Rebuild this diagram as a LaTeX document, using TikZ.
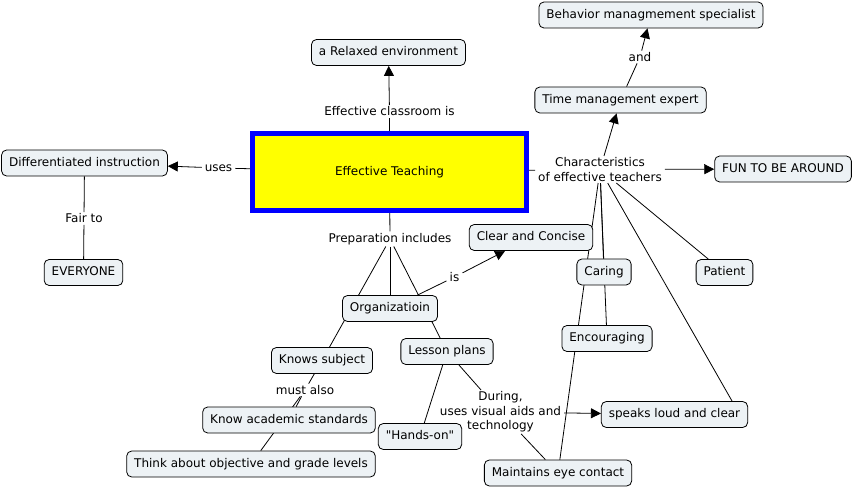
\documentclass[tikz,border=0pt]{standalone}
\usepackage{fontspec}
\setmainfont{DejaVu Sans}
\newfontfamily\plainff{DejaVu Sans}
\usetikzlibrary{arrows.meta,backgrounds}
\definecolor{cfill}{RGB}{237,242,245}
\definecolor{etyellow}{RGB}{255,255,0}
\definecolor{etblue}{RGB}{0,0,255}
\begin{document}
\begin{tikzpicture}[x=1pt,y=-1pt,
  every node/.style={font=\plainff\fontsize{12pt}{14.4pt}\selectfont},
  concept/.style={draw=black, line width=0.8pt, fill=cfill, rounded corners=5pt, inner xsep=7.5pt, inner ysep=0pt, minimum height=26pt, text height=9pt, text depth=2.5pt},
  lbl/.style={inner xsep=3pt, inner ysep=1.5pt, align=center},
  conn/.style={line width=0.8pt, draw=black},
  arr/.style={conn, -{Triangle[length=10pt,width=10pt]}}]
\useasboundingbox (0,0) rectangle (855,489);
% concepts
\node[concept] (diff) at (84.5,163) {Differentiated instruction};
\node[concept] (every) at (83.5,272.5) {EVERYONE};
\node[concept] (relax) at (388.5,52.5) {a Relaxed environment};
\node[concept] (behav) at (651,15) {Behavior managmement specialist};
\node[concept] (time) at (620.5,100) {Time management expert};
\node[concept] (fun) at (783,169) {FUN TO BE AROUND};
\node[concept] (clear) at (531,237.5) {Clear and Concise};
\node[concept] (caring) at (604,272) {Caring};
\node[concept] (patient) at (724.5,272.5) {Patient};
\node[concept] (encour) at (607,338.5) {Encouraging};
\node[concept] (speaks) at (674.5,414.5) {speaks loud and clear};
\node[concept] (eye) at (558,473) {Maintains eye contact};
\node[concept] (org) at (390,308.5) {Organizatioin};
\node[concept] (knows) at (322,360.5) {Knows subject};
\node[concept] (lesson) at (447,351.5) {Lesson plans};
\node[concept] (acad) at (289,420) {Know academic standards};
\node[concept] (think) at (251,464) {Think about objective and grade levels};
\node[concept] (hands) at (420,436.5) {"Hands-on"};
\node[draw=etblue, line width=5pt, fill=etyellow, minimum width=274pt, minimum height=77pt, inner sep=0pt] (et) at (389.5,172) {Effective Teaching};
% linking phrases
\node[lbl] (uses) at (218.5,168) {uses};
\node[lbl] (fair) at (84,218.5) {Fair to};
\node[lbl] (classroom) at (389.5,111.5) {Effective classroom is};
\node[lbl] (and) at (640,57) {and};
\node[lbl] (char) at (600,169.5) {Characteristics\\of effective teachers};
\node[lbl] (prep) at (390,239) {Preparation includes};
\node[lbl] (is) at (454.5,277) {is};
\node[lbl] (must) at (305,390) {must also};
\node[lbl] (during) at (500.5,412) {During,\\uses visual aids and\\technology};
% connectors
\begin{scope}[on background layer]
\draw[conn] (et) -- (uses); \draw[arr] (uses) -- (diff);
\draw[conn] (diff) -- (fair); \draw[conn] (fair) -- (every);
\draw[conn] (et) -- (classroom); \draw[arr] (classroom) -- (relax);
\draw[conn] (et) -- (char);
\draw[arr] (char) -- (time); \draw[conn] (time) -- (and); \draw[arr] (and) -- (behav);
\draw[arr] (char) -- (fun);
\draw[conn] (char) -- (caring);
\draw[conn] (char) -- (encour);
\draw[conn] (char) -- (eye);
\draw[conn] (char) -- ([xshift=-16pt]speaks.north east);
\draw[conn] (char) -- (patient);
\draw[conn] (et) -- (prep);
\draw[conn] (prep) -- (org); \draw[conn] (prep) -- (knows); \draw[conn] (prep) -- (lesson);
\draw[conn] (org) -- (is); \draw[arr] (is) -- (clear);
\draw[conn] (knows) -- (must); \draw[conn] (must) -- (acad); \draw[conn] (must) -- (think);
\draw[conn] (lesson) -- (hands);
\draw[conn] (lesson) -- (during); \draw[arr] (during) -- (speaks); \draw[conn] (during) -- (eye);
\end{scope}
\end{tikzpicture}
\end{document}
